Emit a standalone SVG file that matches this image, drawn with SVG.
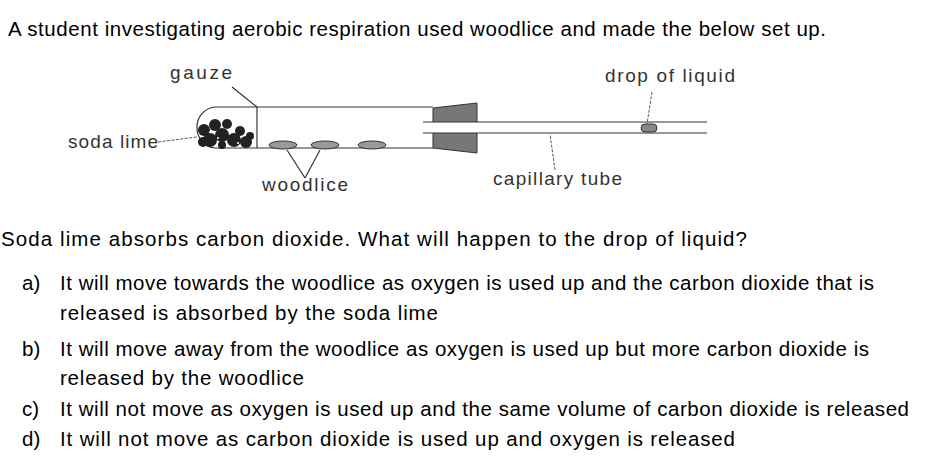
<svg xmlns="http://www.w3.org/2000/svg" width="938" height="468" viewBox="0 0 938 468">
<style>
.t{font-family:"Liberation Sans",Arial,sans-serif;font-size:20.5px;fill:#000}
.l{font-family:"Liberation Sans",Arial,sans-serif;font-size:19px;fill:#333}
.ln{stroke:#333;stroke-width:1.2;fill:none}
.d{stroke:#555;stroke-width:1;stroke-dasharray:3,1.5;fill:none}
.w{fill:#999;stroke:#333;stroke-width:1}
</style>
<rect width="938" height="468" fill="#fff"/>
<g id="apparatus">
<path d="M433,107 H215 A20,20 0 0 0 197,128 A20,20 0 0 0 215,148 H433" class="ln" stroke-width="1.6"/>
<line x1="257" y1="107" x2="257" y2="148" class="ln"/>
<g fill="#222">
<circle cx="210" cy="140" r="7"/><circle cx="222" cy="135" r="7"/><circle cx="234" cy="140" r="7"/><circle cx="204" cy="130" r="6"/><circle cx="215" cy="125" r="6"/><circle cx="227" cy="124" r="5"/><circle cx="246" cy="142" r="6"/><circle cx="240" cy="131" r="5"/><circle cx="203" cy="142" r="5"/><circle cx="222" cy="145" r="4"/><circle cx="250" cy="136" r="4"/>
</g>
<g fill="#fff"><circle cx="218" cy="138" r="1"/><circle cx="230" cy="132" r="1"/><circle cx="238" cy="143" r="1"/><circle cx="210" cy="132" r="1"/></g>
<g id="woodlice1"><ellipse cx="283" cy="145" rx="14" ry="4" class="w"/></g>
<g id="woodlice2"><ellipse cx="325" cy="145" rx="14" ry="4" class="w"/></g>
<g id="woodlice3"><ellipse cx="372" cy="145" rx="14" ry="4" class="w"/></g>
<path d="M433,108 L477,103 V153 L433,148 Z" fill="#777" stroke="#333"/>
<rect x="423" y="122" width="284" height="11" fill="#fff"/>
<line x1="423" y1="122" x2="707" y2="122" class="ln" stroke-width="1.6"/>
<line x1="423" y1="133" x2="707" y2="133" class="ln" stroke-width="1.6"/>
<rect x="641" y="124" width="16" height="8" rx="4" fill="#888" stroke="#333"/>
</g>
<g id="connectors">
<line x1="232" y1="87" x2="257" y2="107" class="ln" stroke-width="1"/>
<line x1="158" y1="142" x2="197" y2="137" class="d"/>
<line x1="305" y1="178" x2="287" y2="150" class="ln" stroke-width="1"/>
<line x1="305" y1="178" x2="320" y2="150" class="ln" stroke-width="1"/>
<line x1="555" y1="170" x2="550" y2="134" class="d"/>
<line x1="652" y1="92" x2="647" y2="124" class="d"/>
</g>
<g id="labels">
<text class="l" x="170" y="79" textLength="62">gauze</text>
<text class="l" x="605" y="82" textLength="130">drop of liquid</text>
<text class="l" x="68" y="148" textLength="90">soda lime</text>
<text class="l" x="262" y="191" textLength="86">woodlice</text>
<text class="l" x="493" y="185" textLength="129">capillary tube</text>
</g>
<g id="question">
<text class="t" x="8" y="36" textLength="818">A student investigating aerobic respiration used woodlice and made the below set up.</text>
<text class="t" x="1" y="246" textLength="746">Soda lime absorbs carbon dioxide. What will happen to the drop of liquid?</text>
<text class="t" x="22" y="290">a)</text>
<text class="t" x="60" y="290" textLength="814">It will move towards the woodlice as oxygen is used up and the carbon dioxide that is</text>
<text class="t" x="60" y="320" textLength="378">released is absorbed by the soda lime</text>
<text class="t" x="22" y="356">b)</text>
<text class="t" x="60" y="356" textLength="809">It will move away from the woodlice as oxygen is used up but more carbon dioxide is</text>
<text class="t" x="60" y="385" textLength="244">released by the woodlice</text>
<text class="t" x="22" y="416">c)</text>
<text class="t" x="60" y="416" textLength="849">It will not move as oxygen is used up and the same volume of carbon dioxide is released</text>
<text class="t" x="22" y="446">d)</text>
<text class="t" x="60" y="446" textLength="675">It will not move as carbon dioxide is used up and oxygen is released</text>
</g>
</svg>
